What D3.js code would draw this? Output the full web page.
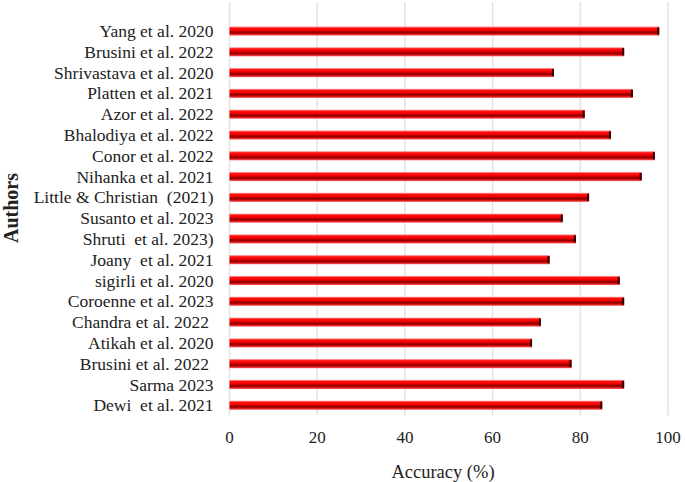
<!DOCTYPE html>
<html>
<head>
<meta charset="utf-8">
<script src="https://cdn.jsdelivr.net/npm/d3@7"></script>
<style>
  body { margin: 0; background: #fff; }
  svg text { font-family: "Liberation Serif", "Times New Roman", serif; fill: #222; white-space: pre; }
</style>
</head>
<body>
<div class="chart"></div>
<script>
var authors = ["Yang et al. 2020", "Brusini et al. 2022", "Shrivastava et al. 2020", "Platten et al. 2021",
  "Azor et al. 2022", "Bhalodiya et al. 2022", "Conor et al. 2022", "Nihanka et al. 2021",
  "Little & Christian  (2021)", "Susanto et al. 2023", "Shruti  et al. 2023)", "Joany  et al. 2021",
  "sigirli et al. 2020", "Coroenne et al. 2023", "Chandra et al. 2022 ", "Atikah et al. 2020",
  "Brusini et al. 2022 ", "Sarma 2023", "Dewi  et al. 2021"];
var accuracy = [98, 90, 74, 92, 81, 87, 97, 94, 82, 76, 79, 73, 89, 90, 71, 69, 78, 90, 85];
var xTicks = [0, 20, 40, 60, 80, 100];

var svg_width = 685, svg_height = 482;
var margin = {top: 20.6, right: 17, bottom: 66.4, left: 229.5};
var width = svg_width - margin.left - margin.right,
    height = svg_height - margin.top - margin.bottom;

var svg = d3.select(".chart").append("svg")
    .attr("width", svg_width).attr("height", svg_height);

var defs = svg.append("defs");
var grad = defs.append("linearGradient").attr("id", "barGrad")
    .attr("x1", 0).attr("y1", 0).attr("x2", 0).attr("y2", 1);
grad.append("stop").attr("offset", "0%").attr("stop-color", "#ffb0b0");
grad.append("stop").attr("offset", "18%").attr("stop-color", "#ff1010");
grad.append("stop").attr("offset", "45%").attr("stop-color", "#f00000");
grad.append("stop").attr("offset", "62%").attr("stop-color", "#8a0000");
grad.append("stop").attr("offset", "78%").attr("stop-color", "#c00000");
grad.append("stop").attr("offset", "100%").attr("stop-color", "#ff6060");

var g = svg.append("g").attr("transform", "translate(" + margin.left + "," + margin.top + ")");

var x = d3.scaleLinear().domain([0, 100]).range([0, 438.5]);
var y = d3.scaleBand().domain(authors).range([0, height]).paddingInner(0.56).paddingOuter(0.28);

// gridlines
g.selectAll(".grid")
    .data(xTicks)
    .enter().append("line")
      .attr("class", "grid")
      .attr("x1", function(d) { return x(d); })
      .attr("x2", function(d) { return x(d); })
      .attr("y1", -margin.top + 2)
      .attr("y2", height)
      .style("stroke", "#e3e3e3")
      .style("stroke-width", 1.5);

// bars
var bar = g.selectAll(".bar")
    .data(authors)
    .enter().append("g")
      .attr("class", "bar");

bar.append("rect")
    .attr("x", x(0))
    .attr("y", function(d) { return y(d); })
    .attr("width", function(d, i) { return x(accuracy[i]) - x(0); })
    .attr("height", y.bandwidth())
    .attr("fill", "url(#barGrad)");

bar.append("rect")
    .attr("x", function(d, i) { return x(accuracy[i]) - 2; })
    .attr("y", function(d) { return y(d) + 1; })
    .attr("width", 2)
    .attr("height", y.bandwidth() - 2)
    .attr("fill", "#300000");

// y labels
g.selectAll(".ylab")
    .data(authors)
    .enter().append("text")
      .attr("class", "ylab")
      .attr("x", -16)
      .attr("y", function(d) { return y(d) + y.bandwidth() / 2; })
      .attr("dy", "0.35em")
      .attr("text-anchor", "end")
      .style("font-size", "17.5px")
      .text(function(d) { return d; });

// x tick labels
g.selectAll(".xlab")
    .data(xTicks)
    .enter().append("text")
      .attr("class", "xlab")
      .attr("x", function(d) { return x(d); })
      .attr("y", height + 21)
      .attr("dy", "0.35em")
      .attr("text-anchor", "middle")
      .style("font-size", "17px")
      .text(function(d) { return d; });

svg.append("text")
    .attr("x", 443)
    .attr("y", 472)
    .attr("dy", "0.35em")
    .attr("text-anchor", "middle")
    .style("font-size", "18.5px")
    .text("Accuracy (%)");

svg.append("text")
    .attr("transform", "translate(11,208) rotate(-90)")
    .attr("dy", "0.35em")
    .attr("text-anchor", "middle")
    .style("font-size", "20px")
    .style("font-weight", "bold")
    .text("Authors");
</script>
</body>
</html>
